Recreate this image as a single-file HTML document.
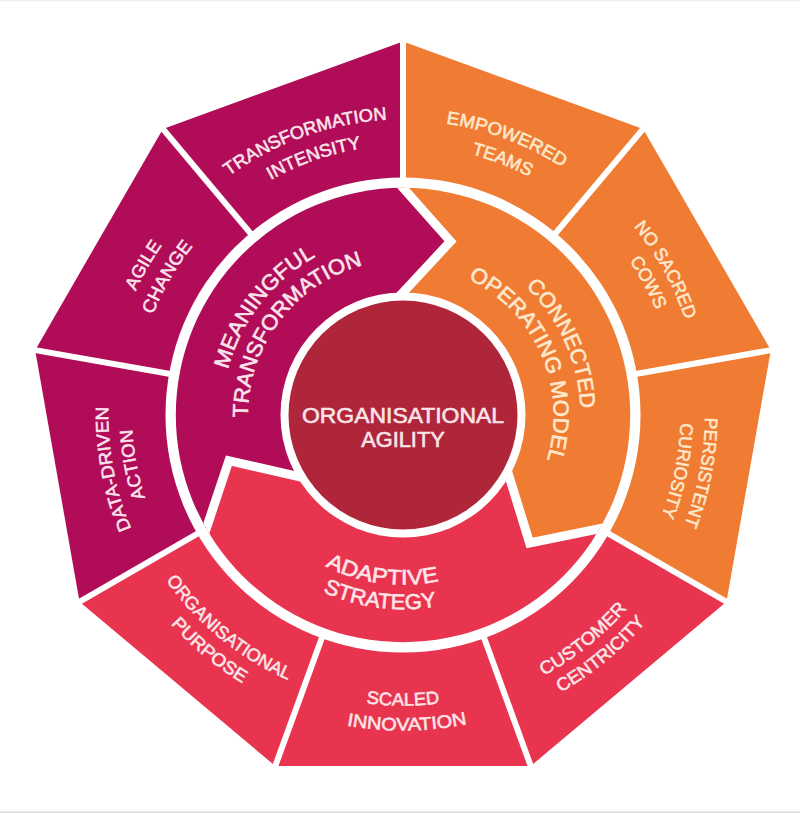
<!DOCTYPE html>
<html><head><meta charset="utf-8"><style>
html,body{margin:0;padding:0;background:#fff;}
body{width:800px;height:813px;overflow:hidden;position:relative;}
.tl{position:absolute;left:0;top:0;width:800px;height:1px;background:#f1f1f1;border-bottom:1px solid #fafafa;}
.bl{position:absolute;left:0;top:811px;width:800px;height:1px;background:#dcdcdc;border-top:1px solid #eeeeee;}
svg{position:absolute;left:0;top:0;}
</style></head><body>
<svg width="800" height="813" viewBox="0 0 800 813"><defs><path id="o0" d="M 149.43,265.04 A 294.60 294.60 0 0 1 692.57,469.19"/><path id="o1" d="M 172.64,274.94 A 269.60 269.60 0 0 1 667.37,467.83"/><path id="o2" d="M 306.26,133.25 A 297.90 297.90 0 0 1 590.27,646.68"/><path id="o3" d="M 316.54,155.10 A 273.90 273.90 0 0 1 573.13,629.65"/><path id="o4" d="M 510.88,132.93 A 302.00 302.00 0 0 1 398.10,716.96"/><path id="o5" d="M 504.62,156.88 A 277.40 277.40 0 0 1 395.79,692.31"/><path id="o6" d="M 207.78,637.76 A 296.20 296.20 0 0 0 662.64,272.44"/><path id="o7" d="M 196.02,657.86 A 319.10 319.10 0 0 0 680.57,257.58"/><path id="o8" d="M 116.81,465.46 A 290.60 290.60 0 0 0 689.19,465.46"/><path id="o9" d="M 92.92,473.76 A 315.60 315.60 0 0 0 714.48,465.84"/><path id="o10" d="M 151.12,273.71 A 288.80 288.80 0 0 0 591.36,633.92"/><path id="o11" d="M 130.94,261.45 A 312.40 312.40 0 0 0 606.14,652.34"/><path id="o12" d="M 405.93,709.59 A 294.60 294.60 0 0 1 299.49,139.18"/><path id="o13" d="M 404.99,685.99 A 271.00 271.00 0 0 1 308.45,161.03"/><path id="o14" d="M 213.63,640.68 A 294.60 294.60 0 0 1 503.76,138.17"/><path id="o15" d="M 228.55,620.55 A 269.60 269.60 0 0 1 496.62,162.18"/><path id="o16" d="M 111.55,464.35 A 295.60 295.60 0 0 1 660.00,268.95"/><path id="o17" d="M 136.84,457.92 A 269.60 269.60 0 0 1 638.43,283.64"/></defs><defs><path id="a1" d="M 269.03,536.26 A 180.7 180.7 0 0 1 487.42,255.23"/><path id="a2" d="M 289.64,520.71 A 155 155 0 0 1 473.37,276.89"/><path id="a3" d="M 359.46,242.92 A 177.5 177.5 0 0 1 502.77,561.81"/><path id="a4" d="M 367.82,268.46 A 150.7 150.7 0 0 1 486.18,540.67"/><path id="a5" d="M 233.36,422.41 A 169.8 169.8 0 0 0 564.94,466.06"/><path id="a6" d="M 208.93,424.49 A 194.3 194.3 0 0 0 588.61,472.46"/></defs><polygon points="403.00,415.00 403.00,41.50 643.08,128.88" fill="#F07B32"/><polygon points="403.00,415.00 643.08,128.88 770.83,350.14" fill="#F07B32"/><polygon points="403.00,415.00 770.83,350.14 726.46,601.75" fill="#F07B32"/><polygon points="403.00,415.00 726.46,601.75 530.74,765.98" fill="#E8344F"/><polygon points="403.00,415.00 530.74,765.98 275.26,765.98" fill="#E8344F"/><polygon points="403.00,415.00 275.26,765.98 79.54,601.75" fill="#E8344F"/><polygon points="403.00,415.00 79.54,601.75 35.17,350.14" fill="#B00C58"/><polygon points="403.00,415.00 35.17,350.14 162.92,128.88" fill="#B00C58"/><polygon points="403.00,415.00 162.92,128.88 403.00,41.50" fill="#B00C58"/><line x1="403.0" y1="415.0" x2="403.00" y2="21.50" stroke="#fff" stroke-width="6.0"/><line x1="403.0" y1="415.0" x2="655.94" y2="113.56" stroke="#fff" stroke-width="6.0"/><line x1="403.0" y1="415.0" x2="790.52" y2="346.67" stroke="#fff" stroke-width="6.0"/><line x1="403.0" y1="415.0" x2="743.78" y2="611.75" stroke="#fff" stroke-width="6.0"/><line x1="403.0" y1="415.0" x2="537.58" y2="784.77" stroke="#fff" stroke-width="6.0"/><line x1="403.0" y1="415.0" x2="268.42" y2="784.77" stroke="#fff" stroke-width="6.0"/><line x1="403.0" y1="415.0" x2="62.22" y2="611.75" stroke="#fff" stroke-width="6.0"/><line x1="403.0" y1="415.0" x2="15.48" y2="346.67" stroke="#fff" stroke-width="6.0"/><line x1="403.0" y1="415.0" x2="150.06" y2="113.56" stroke="#fff" stroke-width="6.0"/><circle cx="403.0" cy="415.0" r="237.5" fill="#fff"/><defs><clipPath id="cr"><circle cx="403.0" cy="415.0" r="227.2"/></clipPath></defs><g clip-path="url(#cr)"><polygon points="351.33,488.71 228.89,460.68 188.12,582.94 143.19,565.00 103.00,415.00 143.19,265.00 253.00,155.19 403.00,115.00 365.00,144.94 450.50,241.38 365.00,333.40 403.00,415.00" fill="#B00C58"/><polygon points="365.00,333.40 450.50,241.38 365.00,144.94 403.00,115.00 553.00,155.19 662.81,265.00 703.00,415.00 662.81,565.00 655.88,517.12 529.61,542.94 492.67,422.89 403.00,415.00" fill="#F07B32"/><polygon points="492.67,422.89 529.61,542.94 655.88,517.12 662.81,565.00 553.00,674.81 403.00,715.00 253.00,674.81 143.19,565.00 188.12,582.94 228.89,460.68 351.33,488.71 403.00,415.00" fill="#E8344F"/><polyline points="351.33,488.71 228.89,460.68 188.12,582.94" fill="none" stroke="#fff" stroke-width="9.0" stroke-linejoin="miter" stroke-miterlimit="10"/><polyline points="365.00,333.40 450.50,241.38 365.00,144.94" fill="none" stroke="#fff" stroke-width="9.0" stroke-linejoin="miter" stroke-miterlimit="10"/><polyline points="492.67,422.89 529.61,542.94 655.88,517.12" fill="none" stroke="#fff" stroke-width="9.0" stroke-linejoin="miter" stroke-miterlimit="10"/></g><circle cx="403.0" cy="415.0" r="122.5" fill="#fff"/><circle cx="403.0" cy="415.0" r="114.5" fill="#AF253A"/><text x="403.0" y="422.6" text-anchor="middle" font-size="21.4" fill="#F9E3E7" stroke="#F9E3E7" stroke-width="0.6" style="font-family:'Liberation Sans',sans-serif" textLength="202" lengthAdjust="spacingAndGlyphs">ORGANISATIONAL</text><text x="403.0" y="446.7" text-anchor="middle" font-size="21.4" fill="#F9E3E7" stroke="#F9E3E7" stroke-width="0.6" style="font-family:'Liberation Sans',sans-serif" textLength="83.4" lengthAdjust="spacingAndGlyphs">AGILITY</text><text font-size="21.5" fill="#FBE3EC" stroke="#FBE3EC" stroke-width="0.6" style="font-family:'Liberation Sans',sans-serif"><textPath href="#a1" startOffset="50%" text-anchor="middle" textLength="147" lengthAdjust="spacingAndGlyphs">MEANINGFUL</textPath></text><text font-size="21.5" fill="#FBE3EC" stroke="#FBE3EC" stroke-width="0.6" style="font-family:'Liberation Sans',sans-serif"><textPath href="#a2" startOffset="50%" text-anchor="middle" textLength="205" lengthAdjust="spacingAndGlyphs">TRANSFORMATION</textPath></text><text font-size="21.5" fill="#FDE8CC" stroke="#FDE8CC" stroke-width="0.6" style="font-family:'Liberation Sans',sans-serif"><textPath href="#a3" startOffset="50%" text-anchor="middle" textLength="137" lengthAdjust="spacingAndGlyphs">CONNECTED</textPath></text><text font-size="21.5" fill="#FDE8CC" stroke="#FDE8CC" stroke-width="0.6" style="font-family:'Liberation Sans',sans-serif"><textPath href="#a4" startOffset="50%" text-anchor="middle" textLength="215" lengthAdjust="spacingAndGlyphs">OPERATING MODEL</textPath></text><text font-size="21.5" fill="#FCE4E8" stroke="#FCE4E8" stroke-width="0.6" style="font-family:'Liberation Sans',sans-serif"><textPath href="#a5" startOffset="50%" text-anchor="middle" textLength="117" lengthAdjust="spacingAndGlyphs">ADAPTIVE</textPath></text><text font-size="21.5" fill="#FCE4E8" stroke="#FCE4E8" stroke-width="0.6" style="font-family:'Liberation Sans',sans-serif"><textPath href="#a6" startOffset="50%" text-anchor="middle" textLength="116.5" lengthAdjust="spacingAndGlyphs">STRATEGY</textPath></text><text font-size="18" fill="#FDE8CC" stroke="#FDE8CC" stroke-width="0.55" style="font-family:'Liberation Sans',sans-serif"><textPath href="#o0" startOffset="50%" text-anchor="middle" textLength="125.5" lengthAdjust="spacingAndGlyphs">EMPOWERED</textPath></text><text font-size="18" fill="#FDE8CC" stroke="#FDE8CC" stroke-width="0.55" style="font-family:'Liberation Sans',sans-serif"><textPath href="#o1" startOffset="50%" text-anchor="middle">TEAMS</textPath></text><text font-size="18" fill="#FDE8CC" stroke="#FDE8CC" stroke-width="0.55" style="font-family:'Liberation Sans',sans-serif"><textPath href="#o2" startOffset="50%" text-anchor="middle">NO SACRED</textPath></text><text font-size="18" fill="#FDE8CC" stroke="#FDE8CC" stroke-width="0.55" style="font-family:'Liberation Sans',sans-serif"><textPath href="#o3" startOffset="50%" text-anchor="middle">COWS</textPath></text><text font-size="18" fill="#FDE8CC" stroke="#FDE8CC" stroke-width="0.55" style="font-family:'Liberation Sans',sans-serif"><textPath href="#o4" startOffset="50%" text-anchor="middle" textLength="110" lengthAdjust="spacingAndGlyphs">PERSISTENT</textPath></text><text font-size="18" fill="#FDE8CC" stroke="#FDE8CC" stroke-width="0.55" style="font-family:'Liberation Sans',sans-serif"><textPath href="#o5" startOffset="50%" text-anchor="middle" textLength="95.5" lengthAdjust="spacingAndGlyphs">CURIOSITY</textPath></text><text font-size="18" fill="#FCE4E8" stroke="#FCE4E8" stroke-width="0.55" style="font-family:'Liberation Sans',sans-serif"><textPath href="#o6" startOffset="50%" text-anchor="middle" textLength="107.6" lengthAdjust="spacingAndGlyphs">CUSTOMER</textPath></text><text font-size="18" fill="#FCE4E8" stroke="#FCE4E8" stroke-width="0.55" style="font-family:'Liberation Sans',sans-serif"><textPath href="#o7" startOffset="50%" text-anchor="middle" textLength="110.7" lengthAdjust="spacingAndGlyphs">CENTRICITY</textPath></text><text font-size="18" fill="#FCE4E8" stroke="#FCE4E8" stroke-width="0.55" style="font-family:'Liberation Sans',sans-serif"><textPath href="#o8" startOffset="50%" text-anchor="middle" textLength="73.6" lengthAdjust="spacingAndGlyphs">SCALED</textPath></text><text font-size="18" fill="#FCE4E8" stroke="#FCE4E8" stroke-width="0.55" style="font-family:'Liberation Sans',sans-serif"><textPath href="#o9" startOffset="50%" text-anchor="middle" textLength="121" lengthAdjust="spacingAndGlyphs">INNOVATION</textPath></text><text font-size="18" fill="#FCE4E8" stroke="#FCE4E8" stroke-width="0.55" style="font-family:'Liberation Sans',sans-serif"><textPath href="#o10" startOffset="50%" text-anchor="middle" textLength="159.4" lengthAdjust="spacingAndGlyphs">ORGANISATIONAL</textPath></text><text font-size="18" fill="#FCE4E8" stroke="#FCE4E8" stroke-width="0.55" style="font-family:'Liberation Sans',sans-serif"><textPath href="#o11" startOffset="50%" text-anchor="middle" textLength="93.5" lengthAdjust="spacingAndGlyphs">PURPOSE</textPath></text><text font-size="18" fill="#FBE3EC" stroke="#FBE3EC" stroke-width="0.55" style="font-family:'Liberation Sans',sans-serif"><textPath href="#o12" startOffset="50%" text-anchor="middle" textLength="125" lengthAdjust="spacingAndGlyphs">DATA-DRIVEN</textPath></text><text font-size="18" fill="#FBE3EC" stroke="#FBE3EC" stroke-width="0.55" style="font-family:'Liberation Sans',sans-serif"><textPath href="#o13" startOffset="50%" text-anchor="middle" textLength="70" lengthAdjust="spacingAndGlyphs">ACTION</textPath></text><text font-size="18" fill="#FBE3EC" stroke="#FBE3EC" stroke-width="0.55" style="font-family:'Liberation Sans',sans-serif"><textPath href="#o14" startOffset="50%" text-anchor="middle">AGILE</textPath></text><text font-size="18" fill="#FBE3EC" stroke="#FBE3EC" stroke-width="0.55" style="font-family:'Liberation Sans',sans-serif"><textPath href="#o15" startOffset="50%" text-anchor="middle" textLength="80" lengthAdjust="spacingAndGlyphs">CHANGE</textPath></text><text font-size="18" fill="#FBE3EC" stroke="#FBE3EC" stroke-width="0.55" style="font-family:'Liberation Sans',sans-serif"><textPath href="#o16" startOffset="50%" text-anchor="middle" textLength="170" lengthAdjust="spacingAndGlyphs">TRANSFORMATION</textPath></text><text font-size="18" fill="#FBE3EC" stroke="#FBE3EC" stroke-width="0.55" style="font-family:'Liberation Sans',sans-serif"><textPath href="#o17" startOffset="50%" text-anchor="middle" textLength="96" lengthAdjust="spacingAndGlyphs">INTENSITY</textPath></text></svg>
<div class="tl"></div><div class="bl"></div>
</body></html>
